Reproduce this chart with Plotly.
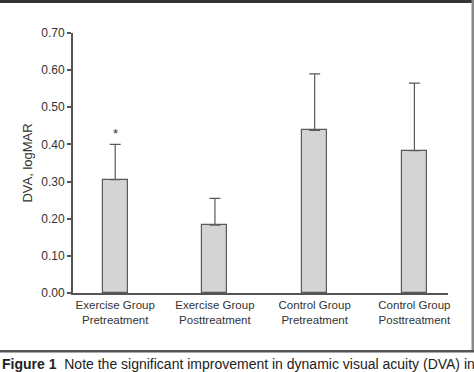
import plotly.graph_objects as go

categories = ["Exercise Group<br>Pretreatment", "Exercise Group<br>Posttreatment",
              "Control Group<br>Pretreatment", "Control Group<br>Posttreatment"]
means = [0.305, 0.183, 0.438, 0.383]
sds = [0.095, 0.072, 0.152, 0.182]
y_ticks = [0.0, 0.1, 0.2, 0.3, 0.4, 0.5, 0.6, 0.7]
y_ticklabels = ["0.00", "0.10", "0.20", "0.30", "0.40", "0.50", "0.60", "0.70"]

FONT = "Liberation Sans, Arial, sans-serif"

fig = go.Figure()
fig.add_trace(go.Bar(
    x=list(range(len(categories))), y=means, width=0.25,
    marker=dict(color="#d4d4d4", line=dict(color="#5a5a5a", width=1.2)),
    error_y=dict(type="data", array=sds, arrayminus=[0]*len(sds), symmetric=False,
                 color="#5a5a5a", thickness=1.2, width=5.5),
    showlegend=False,
))

# significance marker
fig.add_annotation(x=0, y=means[0] + sds[0], text="*", showarrow=False,
                   yanchor="bottom", yshift=1, font=dict(family=FONT, size=13, color="#333"))

L, R, T, B = 73, 26, 33, 79
W, H = 474, 372
pw, ph = W - L - R, H - T - B

def px(x):
    return (x - L) / pw

def py(y):
    return (H - B - y) / ph

shapes = [
    dict(type="rect", xref="paper", yref="paper", x0=px(0), x1=px(W), y0=py(3), y1=py(0),
         fillcolor="#333333", line=dict(width=0), layer="above"),
    dict(type="rect", xref="paper", yref="paper", x0=px(471.5), x1=px(W), y0=py(352), y1=py(0),
         fillcolor="#8a8a8a", line=dict(width=0), layer="above"),
    dict(type="rect", xref="paper", yref="paper", x0=px(0), x1=px(W), y0=py(352.5), y1=py(350),
         fillcolor="#555555", line=dict(width=0), layer="above"),
]
fig.update_layout(shapes=shapes)

fig.add_annotation(xref="paper", yref="paper", x=px(0), y=py(354), xanchor="left", yanchor="top",
                   text="<b>Figure 1</b>  Note the significant improvement in dynamic visual acuity (DVA) in",
                   showarrow=False, align="left", font=dict(family=FONT, size=14, color="#222"))

fig.update_layout(
    width=W, height=H,
    margin=dict(l=L, r=R, t=T, b=B),
    paper_bgcolor="white", plot_bgcolor="white",
    font=dict(family=FONT, size=12, color="#333"),
    bargap=0,
    xaxis=dict(range=[-0.423, 3.337], tickvals=list(range(len(categories))), ticktext=categories,
               showline=True, linecolor="#555", linewidth=2, ticks="", showgrid=False,
               zeroline=False, tickfont=dict(size=11.5, color="#333"), automargin=False),
    yaxis=dict(range=[0, 0.7], tickvals=y_ticks, ticktext=y_ticklabels,
               showline=True, linecolor="#555", linewidth=2, ticks="outside", ticklen=4,
               tickwidth=1.5, tickcolor="#555", showgrid=False, zeroline=False,
               tickfont=dict(size=12, color="#333"), automargin=False,
               title=dict(text="DVA, logMAR", font=dict(size=13, color="#333"), standoff=6)),
)

fig.write_html("out.html", config={"displayModeBar": False},
               post_script="document.body.style.margin='0';document.body.style.overflow='hidden';")
